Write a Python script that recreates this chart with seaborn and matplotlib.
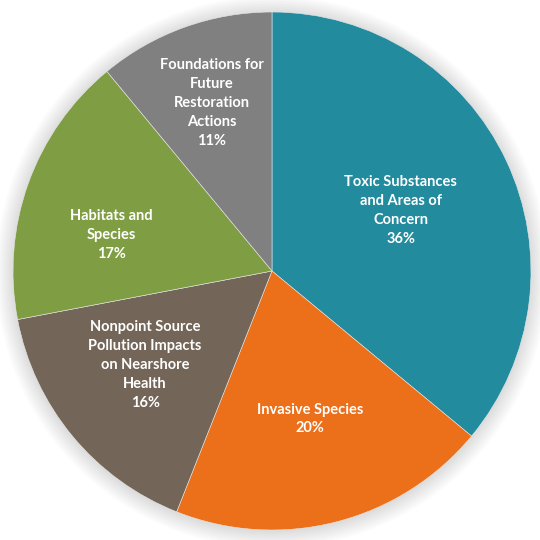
import numpy as np
import matplotlib
matplotlib.use("Agg")
import matplotlib.pyplot as plt
import seaborn as sns
from matplotlib.patches import Circle

categories = ["Toxic Substances\nand Areas of\nConcern",
              "Invasive Species",
              "Nonpoint Source\nPollution Impacts\non Nearshore\nHealth",
              "Habitats and\nSpecies",
              "Foundations for\nFuture\nRestoration\nActions"]
values = [36, 20, 16, 17, 11]
colors = sns.color_palette(["#238B9E", "#EC6F1A", "#736658", "#7F9E43", "#808080"])
label_dist = [0.55, 0.59, 0.61, 0.635, 0.69]
label_turn = [0, 0, -3, 7, 0]

sns.set_style("white")
plt.rcParams['font.family'] = ['Lato', 'DejaVu Sans']

fig = plt.figure(figsize=(5.4, 5.4), dpi=100)
cx, cy, r = 272/540, 1 - 271/540, 259/540
ax = fig.add_axes([cx - r, cy - r, 2*r, 2*r])

wedges, _ = ax.pie(values, colors=colors, startangle=90, counterclock=False,
                   radius=1.0, wedgeprops=dict(edgecolor="#e8e8e8", linewidth=0.4))
for w in wedges:
    w.set_zorder(2)

ax.set_xlim(-1, 1)
ax.set_ylim(-1, 1)
ax.set_aspect("equal")
ax.axis("off")

# soft shadow
for k in range(12):
    ax.add_patch(Circle((0, -0.004), 1.0 + k*0.006, color="black", alpha=0.012,
                        zorder=0, clip_on=False, lw=0))

for w, lab, v, d, t in zip(wedges, categories, values, label_dist, label_turn):
    ang = np.deg2rad((w.theta1 + w.theta2) / 2 + t)
    ax.text(d*np.cos(ang), d*np.sin(ang), f"{lab}\n{v}%", ha="center", va="center",
            color="white", fontsize=10.5, fontweight="bold", linespacing=1.45, zorder=3)

fig.savefig("out.png", dpi=100, facecolor="white")
